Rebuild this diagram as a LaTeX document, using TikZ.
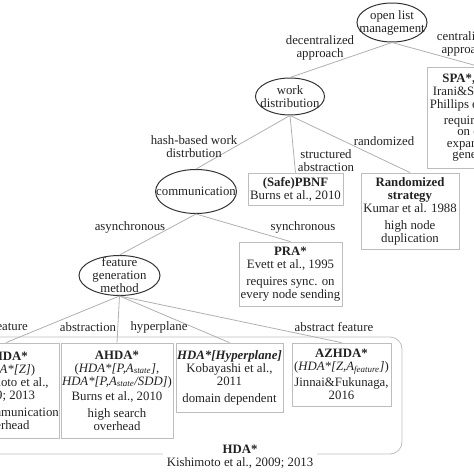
\documentclass[tikz,border=0pt]{standalone}
\usepackage{fontspec}
\setmainfont{Liberation Serif}
\usetikzlibrary{shapes.geometric}
\definecolor{txt}{HTML}{222222}
\definecolor{ovl}{HTML}{333333}
\definecolor{boxc}{HTML}{BDBDBD}
\definecolor{edgec}{HTML}{B0B0B0}
\begin{document}
\begin{tikzpicture}[x=1pt,y=-1pt,
  every node/.style={text=txt, font=\fontsize{12.8}{13}\selectfont},
  oval/.style={ellipse, draw=ovl, line width=1pt, inner sep=0pt},
  ovtext/.style={align=center, inner sep=0pt},
  box/.style={draw=boxc, line width=0.8pt, inner sep=1pt, align=center},
  lbl/.style={align=center, inner sep=0pt},
  conn/.style={draw=edgec, line width=0.8pt},
  grp/.style={draw=boxc, line width=0.8pt, rounded corners=12pt}]
\useasboundingbox (0,0) rectangle (474,474);

% ellipses
\node[oval, minimum width=70pt, minimum height=39pt] (open) at (392,22.5) {};
\node[ovtext] (opent) at (open) {open list\\management};
\node[oval, minimum width=69pt, minimum height=37pt] (work) at (290,96.5) {};
\node[ovtext] (workt) at (work) {work\\distribution};
\node[oval, minimum width=81pt, minimum height=44pt] (comm) at (196,191.5) {};
\node[ovtext] (commt) at (comm) {communication};
\node[oval, minimum width=81pt, minimum height=40pt] (feat) at (119.5,275.5) {};
\node[ovtext] (featt) at (feat) {feature\\generation\\method};

% boxes
\node[box, minimum width=105pt, minimum height=101pt] (spa) at (479.5,117.5)
  {\textbf{SPA*, PA*SE}\\Irani\&Shih, 1986;\\Phillips et al., 2014\\[3pt]requires sync.\\[-1.5pt]on every\\[-1.5pt]expansion \&\\[-1.5pt]generation};
\node[box, minimum width=95pt, minimum height=32pt] (pbnf) at (295.5,189)
  {\textbf{(Safe)PBNF}\\Burns et al., 2010};
\node[box, minimum width=98pt, minimum height=76pt] (rand) at (410,211)
  {\textbf{Randomized}\\\textbf{strategy}\\Kumar et al. 1988\\[4pt]high node\\duplication};
\node[box, minimum width=103pt, minimum height=64pt] (pra) at (290.5,274)
  {\textbf{PRA*}\\Evett et al., 1995\\[4pt]requires sync. on\\every node sending};

% group of HDA* variants
\draw[grp] (-120,337) -- (402,337) -- (402,454) -- (-120,454);

\node[box, minimum width=106pt, minimum height=95pt] (zhda) at (6,390.5)
  {\textbf{ZHDA*}\\(\textit{HDA*[Z]})\\Kishimoto et al.,\\2009; 2013\\[4pt]high communication\\overhead};
\node[box, minimum width=102pt, minimum height=95pt] (ahda) at (117,390.5)
  {\textbf{AHDA*}\\(\textit{HDA*[P,A\textsubscript{state}]},\\\textit{HDA*[P,A\textsubscript{state}/SDD]})\\[2pt]Burns et al., 2010\\[4pt]high search\\overhead};
\node[box, minimum width=107pt, minimum height=69pt] (hyp) at (229.5,377.5)
  {\textbf{\textit{HDA*[Hyperplane]}}\\Kobayashi et al.,\\2011\\[4pt]domain dependent};
\node[box, minimum width=99pt, minimum height=63pt] (azhda) at (341.5,374.5)
  {\textbf{AZHDA*}\\(\textit{HDA*[Z,A\textsubscript{feature}]})\\[3pt]Jinnai\&Fukunaga,\\2016};

\node[lbl, fill=white, inner sep=4pt] (hdalbl) at (240,457)
  {\textbf{HDA*}\\Kishimoto et al., 2009; 2013};

% connectors
\draw[conn] (open.south) -- (work.north);
\draw[conn] (open.south) -- (spa.north);
\draw[conn] (work.south) -- (comm.north);
\draw[conn] (work.south) -- (pbnf.north);
\draw[conn] (work.south) -- (rand.north);
\draw[conn] (comm.south) -- (feat.north);
\draw[conn] (comm.south) -- (pra.north);
\draw[conn] (feat.south) -- (zhda.north);
\draw[conn] (feat.south) -- (ahda.north);
\draw[conn] (feat.south) -- (hyp.north);
\draw[conn] (feat.south) -- (azhda.north);

% connector labels
\node[lbl] (l1) at (320,48) {decentralized\\approach};
\node[lbl] (l2) at (465,43.5) {centralized\\approach};
\node[lbl] (l3) at (194,146.5) {hash-based work\\distrbution};
\node[lbl] (l4) at (326,161) {structured\\abstraction};
\node[lbl] (l5) at (384,141) {randomized};
\node[lbl] (l6) at (130,227) {asynchronous};
\node[lbl] (l7) at (303,227) {synchronous};
\node[lbl, anchor=east] (l8) at (28,326.5) {feature};
\node[lbl] (l9) at (88,327) {abstraction};
\node[lbl] (l10) at (159,327) {hyperplane};
\node[lbl] (l11) at (334,327) {abstract feature};
\end{tikzpicture}
\end{document}
